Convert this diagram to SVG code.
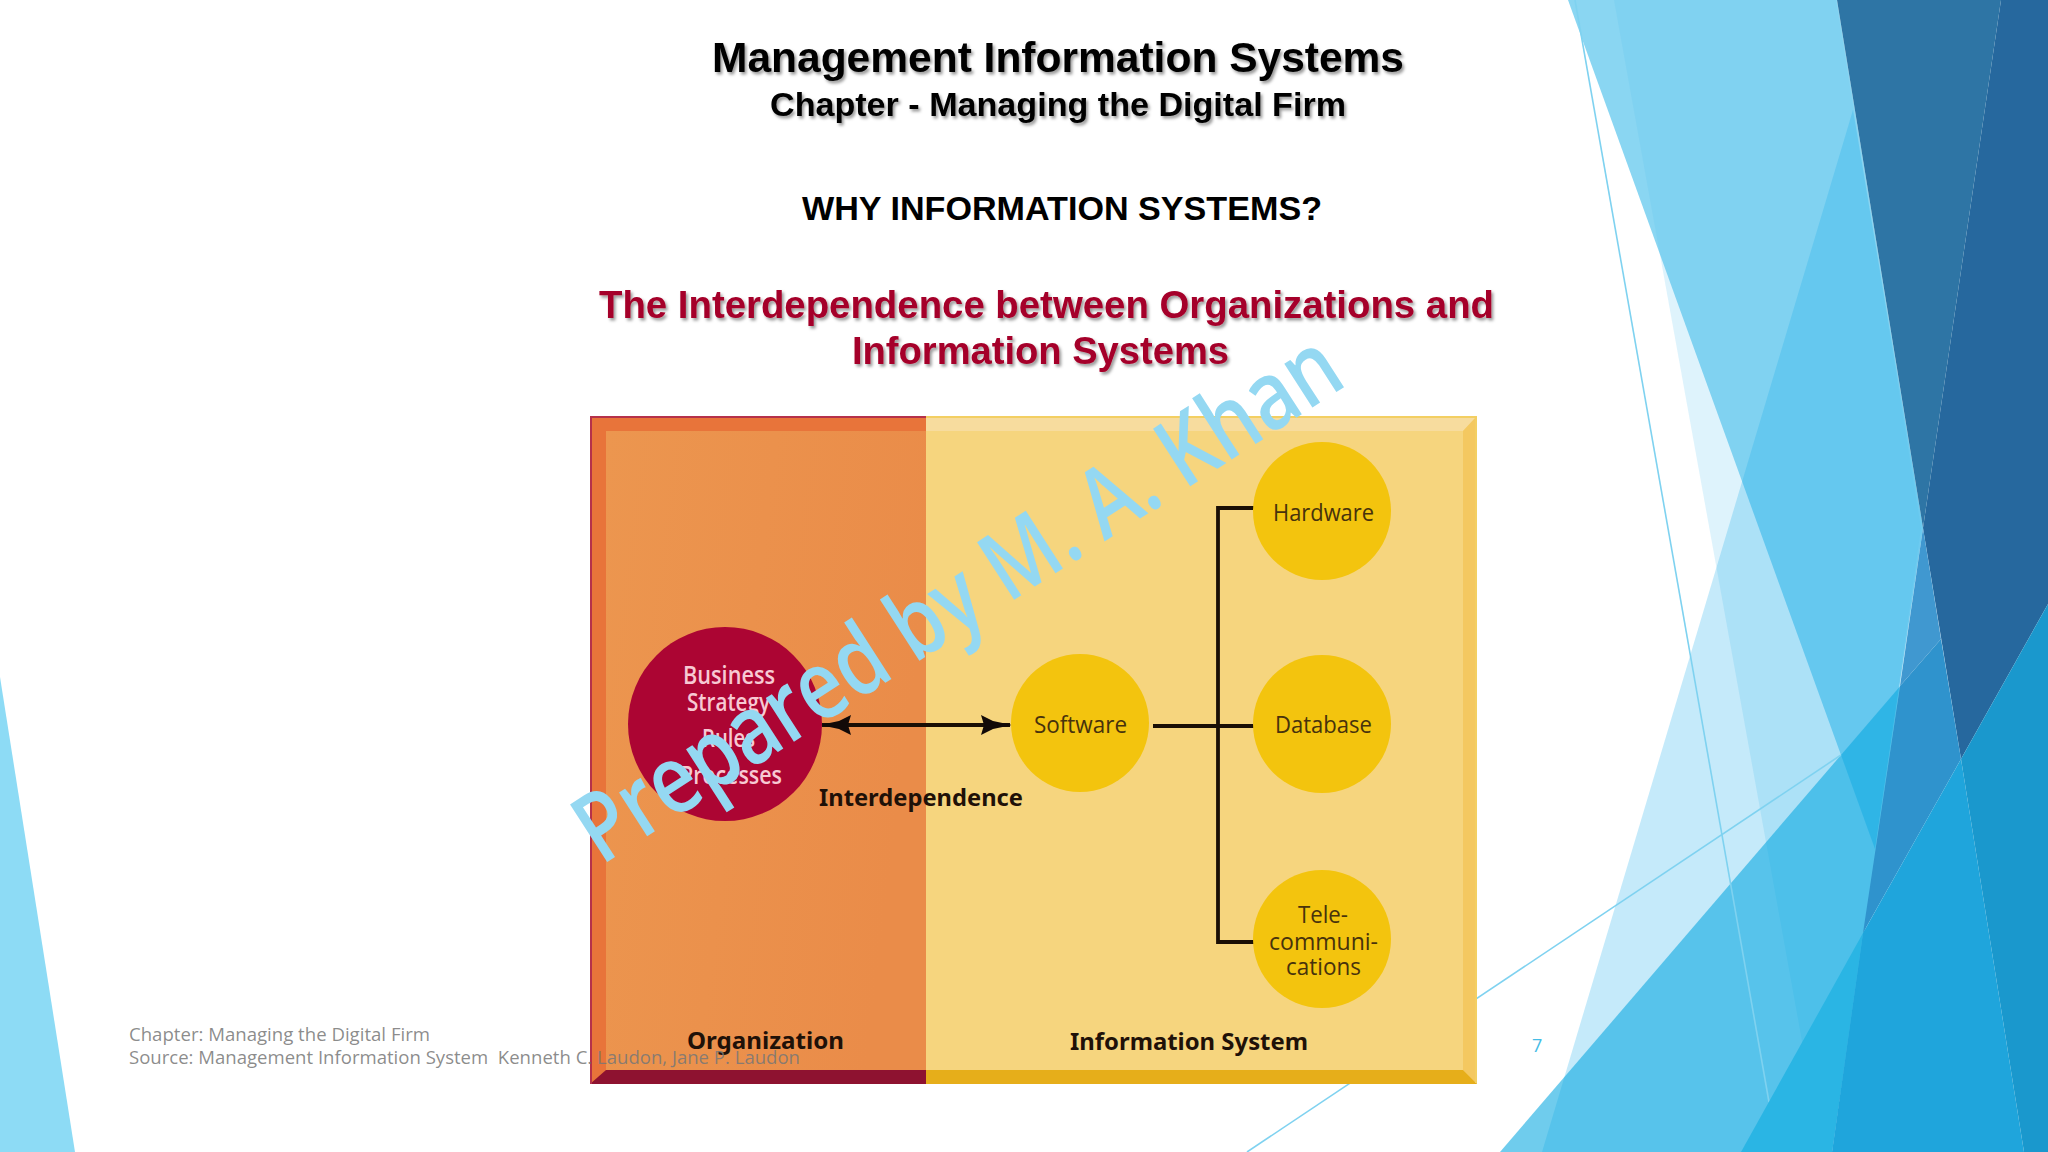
<svg xmlns="http://www.w3.org/2000/svg" width="2048" height="1152" viewBox="0 0 2048 1152">
<defs>
<filter id="shadow" x="-5%" y="-20%" width="110%" height="150%"><feDropShadow dx="2" dy="2.5" stdDeviation="1.6" flood-color="#000" flood-opacity="0.4"/></filter>
<linearGradient id="org" x1="0" y1="0" x2="1" y2="0.25"><stop offset="0" stop-color="#ec964f"/><stop offset="1" stop-color="#ea8c49"/></linearGradient>
<marker id="head" markerUnits="userSpaceOnUse" markerWidth="36" markerHeight="24" viewBox="0 0 36 24" refX="33" refY="12" orient="auto-start-reverse"><path d="M35 12 L16 8 L4 2 L7 12 L4 22 L16 16 Z" fill="#120a08"/></marker>
<style>
.title{font-family:"Liberation Sans",Arial,sans-serif;font-weight:700;fill:#000;text-anchor:start}
.red{fill:#a50029}
.lab{font-family:"Open Sans","Noto Sans",sans-serif;font-size:24px;fill:#47320c}
.bold{font-family:"Noto Sans","Open Sans",sans-serif;font-weight:700;font-size:24px;fill:#1f1108}
.in{font-family:"Open Sans","Noto Sans",sans-serif;font-size:25px;font-weight:600;fill:#f7c9d3}
.foot{font-family:"Open Sans","Noto Sans",sans-serif;font-size:19px;fill:#777;fill-opacity:.85}
.y{fill:#f3c40e}
.conn{fill:none;stroke:#1a0f05;stroke-width:3.8}
</style>
</defs>
<rect width="2048" height="1152" fill="#fff"/>
<g id="background">
<polygon points="0,677 75,1152 0,1152" fill="#8ddbf5"/>
<polygon points="1568,0 1837,0 1923,528 1875,849" fill="#8ad6f2"/>
<polygon points="1614,0 1836,0 1921,528 1832,1152 1822,1152" fill="#5cc3ee" fill-opacity=".2"/>
<polygon points="1853,110 1542,1152 1832,1152 1923,528" fill="#14aaea" fill-opacity=".246"/>
<polygon points="1500,1152 1902,684 1832,1152" fill="#0aa8e0" fill-opacity=".59"/>
<polygon points="2001,0 2048,0 2048,604 1961,759 1923,528" fill="#26689e"/>
<polygon points="1837,0 2001,0 1923,528" fill="#2e75a5"/>
<polygon points="1923,528 1941,639 1900,686" fill="#4098d0"/>
<polygon points="1900,686 1941,639 1961,759 1863,933" fill="#2f93cd"/>
<line x1="1575" y1="0" x2="1769" y2="1102" stroke="#7fd2f0" stroke-width="1.6"/>
<line x1="1247" y1="1152" x2="1841" y2="755" stroke="#7fd2f0" stroke-width="1.6"/>
<polygon points="1741,1152 1863,933 1832,1152" fill="#2ab5e4"/>
<polygon points="1863,933 1961,759 2024,1152 1832,1152" fill="#1fa5dc"/>
<polygon points="1961,759 2048,604 2048,1152 2024,1152" fill="#1a98cd"/>
</g>
<g id="titles">
<text class="title" x="712" y="72" font-size="42" textLength="692" lengthAdjust="spacingAndGlyphs" filter="url(#shadow)">Management Information Systems</text>
<text class="title" x="770" y="116" font-size="33.5" textLength="576" lengthAdjust="spacingAndGlyphs" filter="url(#shadow)">Chapter - Managing the Digital Firm</text>
<text class="title" x="802" y="220" font-size="33.5" textLength="520" lengthAdjust="spacingAndGlyphs">WHY INFORMATION SYSTEMS?</text>
<text class="title red" x="599" y="318" font-size="38" textLength="895" lengthAdjust="spacingAndGlyphs" filter="url(#shadow)">The Interdependence between Organizations and</text>
<text class="title red" x="852" y="364" font-size="38" textLength="377" lengthAdjust="spacingAndGlyphs" filter="url(#shadow)">Information Systems</text>
</g>
<g id="panel-organization">
<rect x="590" y="416" width="336" height="668" fill="#e8743a"/>
<rect x="606" y="431" width="320" height="639" fill="url(#org)"/>
<polygon points="590,1084 926,1084 926,1070 606,1070" fill="#8e1230"/>
<path d="M926 417 H591 V1084" fill="none" stroke="#b5314a" stroke-width="2"/>
<text class="bold" x="687" y="1049" textLength="157" lengthAdjust="spacingAndGlyphs">Organization</text>
</g>
<g id="panel-information-system">
<rect x="926" y="416" width="551" height="668" fill="#f6d57e"/>
<polygon points="926,416 1477,416 1463,431 926,431" fill="#f7dc9e"/>
<polygon points="1477,416 1477,1084 1463,1070 1463,431" fill="#f4c860"/>
<polygon points="926,1070 1463,1070 1477,1084 926,1084" fill="#e6ae1a"/>
<path d="M926 417 H1476 V1083" fill="none" stroke="#f3cf62" stroke-width="2"/>
<text class="bold" x="1070" y="1050" textLength="238" lengthAdjust="spacingAndGlyphs">Information System</text>
</g>
<g id="connectors">
<path class="conn" d="M1254 508 H1218 V942 H1254"/>
<path class="conn" d="M1153 726 H1254"/>
<line class="conn" x1="822" y1="725" x2="1010" y2="725" marker-start="url(#head)" marker-end="url(#head)"/>
</g>
<g id="node-business">
<circle cx="725" cy="724" r="97" fill="#ac0533"/>
<text class="in" x="683" y="684" textLength="92" lengthAdjust="spacingAndGlyphs">Business</text>
<text class="in" x="687" y="711" textLength="83" lengthAdjust="spacingAndGlyphs">Strategy</text>
<text class="in" x="702" y="747" textLength="53" lengthAdjust="spacingAndGlyphs">Rules</text>
<text class="in" x="680" y="784" textLength="102" lengthAdjust="spacingAndGlyphs">Processes</text>
</g>
<g id="node-software">
<circle class="y" cx="1080" cy="723" r="69"/>
<text class="lab" x="1034" y="733" textLength="93" lengthAdjust="spacingAndGlyphs">Software</text>
</g>
<g id="node-hardware">
<circle class="y" cx="1322" cy="511" r="69"/>
<text class="lab" x="1273" y="521" textLength="101" lengthAdjust="spacingAndGlyphs">Hardware</text>
</g>
<g id="node-database">
<circle class="y" cx="1322" cy="724" r="69"/>
<text class="lab" x="1275" y="733" textLength="97" lengthAdjust="spacingAndGlyphs">Database</text>
</g>
<g id="node-telecom">
<circle class="y" cx="1322" cy="939" r="69"/>
<text class="lab" x="1298" y="923" textLength="50" lengthAdjust="spacingAndGlyphs">Tele-</text>
<text class="lab" x="1269" y="950" textLength="109" lengthAdjust="spacingAndGlyphs">communi-</text>
<text class="lab" x="1286" y="975" textLength="75" lengthAdjust="spacingAndGlyphs">cations</text>
</g>
<g id="node-interdependence">
<text class="bold" x="819" y="806" textLength="204" lengthAdjust="spacingAndGlyphs">Interdependence</text>
</g>
<g id="footer">
<text class="foot" x="129" y="1041" textLength="301" lengthAdjust="spacingAndGlyphs">Chapter: Managing the Digital Firm</text>
<text class="foot" x="129" y="1064" textLength="671" lengthAdjust="spacingAndGlyphs" xml:space="preserve">Source: Management Information System  Kenneth C. Laudon, Jane P. Laudon</text>
<text x="1532" y="1052" font-family="Open Sans, sans-serif" font-size="18" fill="#45bce6">7</text>
</g>
<g id="watermark">
<text transform="translate(601,866) rotate(-32.8)" font-family="Open Sans, sans-serif" font-size="96" font-weight="600" fill="#94d8f2" textLength="890" lengthAdjust="spacingAndGlyphs">Prepared by M. A. Khan</text>
</g>
</svg>
